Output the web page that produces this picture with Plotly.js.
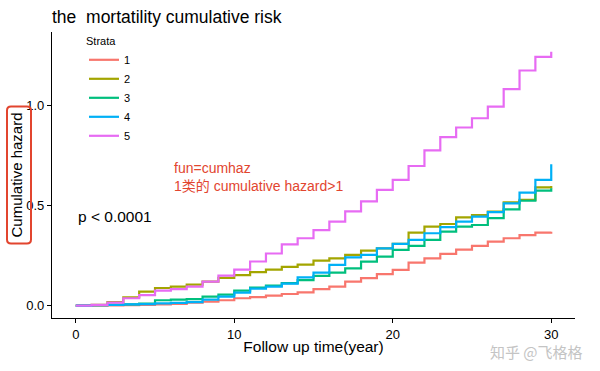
<!DOCTYPE html>
<html>
<head>
<meta charset="utf-8">
<script src="https://cdn.plot.ly/plotly-3.0.1.min.js"></script>
<style>html,body{margin:0;padding:0;background:#fff;}#chart{width:600px;height:371px;}</style>
</head>
<body>
<div id="chart"></div>
<script>
// follow-up years (step points)
const years = [0,1,2,3,4,5,6,7,8,9,10,11,12,13,14,15,16,17,18,19,20,21,22,23,24,25,26,27,28,29,30];
// cumulative hazard per stratum (value after each yearly step)
const strata1 = [0,0,0.001,0.002,0.004,0.006,0.009,0.015,0.02,0.027,0.037,0.043,0.05,0.058,0.066,0.082,0.095,0.12,0.137,0.157,0.178,0.215,0.236,0.258,0.279,0.298,0.319,0.336,0.352,0.364,0.369];
const strata2 = [0,0.004,0.018,0.042,0.07,0.088,0.095,0.105,0.12,0.138,0.152,0.167,0.18,0.193,0.205,0.224,0.236,0.253,0.274,0.286,0.308,0.364,0.394,0.407,0.44,0.452,0.469,0.515,0.527,0.59,0.597];
const strata3 = [0,0.002,0.004,0.006,0.01,0.027,0.03,0.033,0.045,0.055,0.075,0.09,0.1,0.112,0.127,0.148,0.165,0.186,0.219,0.244,0.278,0.298,0.328,0.369,0.394,0.402,0.436,0.48,0.523,0.573,0.585];
const strata4 = [0,0.002,0.004,0.006,0.008,0.011,0.014,0.018,0.03,0.045,0.065,0.085,0.095,0.11,0.141,0.165,0.203,0.241,0.253,0.286,0.308,0.328,0.361,0.391,0.419,0.444,0.466,0.51,0.563,0.627,0.705];
const strata5 = [0,0.004,0.015,0.037,0.053,0.075,0.082,0.095,0.12,0.15,0.18,0.22,0.26,0.305,0.336,0.376,0.419,0.47,0.52,0.577,0.627,0.696,0.774,0.84,0.888,0.934,0.992,1.079,1.172,1.24,1.265];
const strataNames = ["1","2","3","4","5"];
const strataColors = ["#F8766D","#A3A500","#00BF7D","#00B0F6","#E76BF3"];
const xTicks = [0,10,20,30];
const yTicks = [0,0.5,1.0];

const series = [strata1, strata2, strata3, strata4, strata5];
const traces = series.map((ys, i) => ({
  x: years, y: ys, type: 'scatter', mode: 'lines', name: strataNames[i],
  line: {shape: 'hv', color: strataColors[i], width: 2.2}
}));

const font = "'Liberation Sans', Arial, Helvetica, sans-serif";
const mixed = "'Liberation Sans', 'Noto Sans CJK SC', sans-serif";
const cjk = "'Noto Sans CJK SC', sans-serif";
const layout = {
  width: 600, height: 371,
  margin: {l: 52, r: 25, t: 32, b: 53},
  paper_bgcolor: '#ffffff', plot_bgcolor: '#ffffff',
  font: {family: font, color: '#000000'},
  title: {text: 'the  mortatility cumulative risk', font: {size: 17.5, family: font, color: '#000'},
          x: 52/600, xanchor: 'left', xref: 'container', y: 1 - 17/371, yanchor: 'middle', yref: 'container'},
  xaxis: {
    range: [-1.5, 31.5], tickvals: xTicks, ticktext: xTicks.map(String),
    showline: true, linecolor: '#000', linewidth: 1.1, ticks: 'outside', ticklen: 4, tickcolor: '#000', tickwidth: 1,
    showgrid: false, zeroline: false, tickfont: {size: 13, color: '#000'},
    title: {text: 'Follow up time(year)', font: {size: 15.5, color: '#000'}, standoff: 0}
  },
  yaxis: {
    range: [-0.0615, 1.364], tickvals: yTicks, ticktext: yTicks.map(v => v.toFixed(1)),
    showline: true, linecolor: '#000', linewidth: 1.1, ticks: 'outside', ticklen: 4, tickcolor: '#000', tickwidth: 1,
    showgrid: false, zeroline: false, tickfont: {size: 13, color: '#000'},
    title: {text: 'Cumulative hazard', font: {size: 15, color: '#000'}, standoff: 0}
  },
  showlegend: true,
  legend: {
    x: (84 - 52)/523, xanchor: 'left', y: 1 + 1/286, yanchor: 'top',
    bgcolor: 'rgba(0,0,0,0)', font: {size: 11, color: '#000'},
    title: {text: 'Strata', font: {size: 11, color: '#000'}},
    tracegroupgap: 0
  },
  annotations: [
    {xref: 'x', yref: 'y', x: 0, y: 0.444, xanchor: 'left', yanchor: 'middle', showarrow: false,
     text: 'p < 0.0001', font: {size: 15.5, color: '#000', family: font}},
    {xref: 'paper', yref: 'paper', x: (172 - 52)/523, y: (318 - 167.5)/286, xanchor: 'left', yanchor: 'middle', showarrow: false,
     text: 'fun=cumhaz', font: {size: 14, color: '#E2452F', family: mixed}},
    {xref: 'paper', yref: 'paper', x: (172 - 52)/523, y: (318 - 185.5)/286, xanchor: 'left', yanchor: 'middle', showarrow: false,
     text: '1类的 cumulative hazard>1', font: {size: 14, color: '#E2452F', family: mixed}},
    {xref: 'paper', yref: 'paper', x: (585 - 52)/523, y: (318 - 351)/286, xanchor: 'right', yanchor: 'middle', showarrow: false,
     text: '知乎 @飞格格', font: {size: 15, color: '#C4C4C4', family: cjk}}
  ],
  shapes: [
    {type: 'path', xref: 'paper', yref: 'paper', xsizemode: 'pixel', ysizemode: 'pixel', xanchor: 0, yanchor: 0,
     path: 'M -41,211.5 L -25,211.5 Q -21,211.5 -21,207.5 L -21,78.5 Q -21,74.5 -25,74.5 L -41,74.5 Q -45,74.5 -45,78.5 L -45,207.5 Q -45,211.5 -41,211.5 Z',
     line: {color: '#E2452F', width: 2}, layer: 'above'}
  ]
};

Plotly.newPlot('chart', traces, layout, {displayModeBar: false, staticPlot: true});
</script>
</body>
</html>
